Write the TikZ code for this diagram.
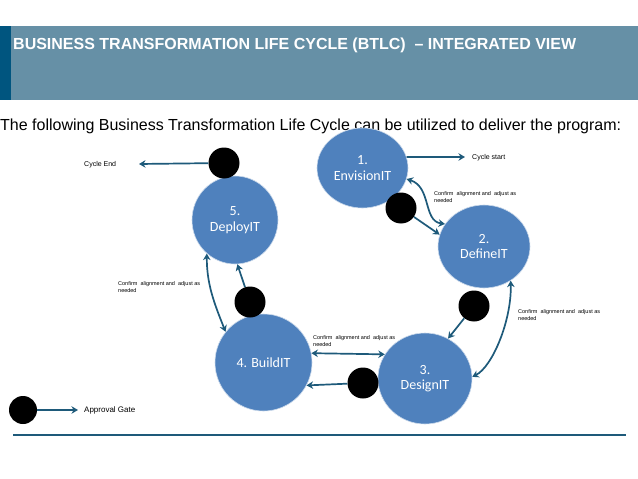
\documentclass[tikz,border=0pt]{standalone}
\usepackage{fontspec}
\setmainfont{Liberation Sans}
\newfontfamily\calibri{Carlito}
\usetikzlibrary{shapes.geometric,arrows.meta}
\definecolor{hdr}{HTML}{6690A6}
\definecolor{hdrdark}{HTML}{00557F}
\definecolor{cblue}{HTML}{4F81BD}
\definecolor{arrc}{HTML}{1E5A7A}
\begin{document}
\begin{tikzpicture}[x=1pt,y=-1pt,
 phase/.style={ellipse, fill=cblue, draw=white!70!cblue, line width=0.6pt, inner sep=0pt, text=white, font=\calibri\fontsize{14}{15.5}\selectfont, align=center},
 gate/.style={circle, fill=black, inner sep=0pt, minimum size=31pt},
 arr/.style={draw=arrc, line width=1.7pt, -{Stealth[length=6.5pt,width=7.5pt]}},
 darr/.style={draw=arrc, line width=1.7pt, {Stealth[length=6.5pt,width=7.5pt]}-{Stealth[length=6.5pt,width=7.5pt]}},
 small/.style={font=\fontsize{5.5}{7}\selectfont, align=left, inner sep=0pt, anchor=north west},
 lbl/.style={font=\fontsize{7}{8}\selectfont, inner sep=0pt, anchor=west}]
\useasboundingbox (0,0) rectangle (638,479);
\fill[white] (0,0) rectangle (638,479);
% header
\fill[hdr] (0,26) rectangle (638,100);
\fill[hdrdark] (0,26) rectangle (11,100);
\node[anchor=base west, inner sep=0pt, text=white, font=\bfseries\fontsize{16}{18}\selectfont] (title) at (13,49) {BUSINESS TRANSFORMATION LIFE CYCLE (BTLC) \ -- INTEGRATED VIEW};
\node[anchor=base west, inner sep=0pt, font=\fontsize{16}{18}\selectfont] (sub) at (0,130) {The following Business Transformation Life Cycle can be utilized to deliver the program:};
% small labels
\node[small] (l12) at (434,191) {Confirm \ alignment and \ adjust as\\needed};
\node[small] (l23) at (518,309) {Confirm \ alignment and \ adjust as\\needed};
\node[small] (l43) at (313,335) {Confirm \ alignment and \ adjust as\\needed};
\node[small] (l54) at (118,281) {Confirm \ alignment and \ adjust as\\needed};
\node[lbl] (ce) at (84,165) {Cycle End};
\node[lbl] (cs) at (472,158) {Cycle start};
\node[lbl, font=\fontsize{8}{9}\selectfont] (lg) at (84,410) {Approval Gate};
% phases
\node[phase, minimum width=91pt, minimum height=80pt] (c1) at (362.5,168) {1.\\EnvisionIT};
\node[phase, minimum width=92pt, minimum height=83pt] (c2) at (484,246.5) {2.\\DefineIT};
\node[phase, minimum width=94pt, minimum height=91pt] (c3) at (425,378.5) {3.\\DesignIT};
\node[phase, minimum width=97pt, minimum height=97pt] (c4) at (263.5,362.5) {4. BuildIT};
\node[phase, minimum width=86pt, minimum height=88pt] (c5) at (235,220) {5.\\DeployIT};
% gates
\node[gate] (g5) at (224,163) {};
\node[gate] (g12) at (401,208) {};
\node[gate] (g23) at (474,306) {};
\node[gate] (g34) at (363,383) {};
\node[gate] (g45) at (250,302) {};
\node[gate, minimum size=28pt] (gl) at (23,410) {};
% free ends
\coordinate (ceEnd) at (139,164);
\coordinate (csEnd) at (465,157);
\coordinate (lgEnd) at (78,410);
% connectors
\draw[arr] (g5) -- (ceEnd);
\draw[arr] (c1.14) -- (csEnd);
\draw[arr] (g12) -- (c2.165);
\draw[darr] (c1.-14) .. controls +(25,8) and +(-22,-3) .. (c2.150);
\draw[arr] (g23) -- (c3.60);
\draw[darr] (c2.-52) .. controls +(1,40) and +(20,-10) .. (c3.2);
\draw[darr] (c4.11) -- (c3.149);
\draw[arr] (g34) -- (c4.-28);
\draw[arr] (g45) -- (c5.-87);
\draw[darr] (c5.-130) .. controls +(0,30) and +(-12,-30) .. (c4.141);
\draw[arr] (gl) -- (lgEnd);
% bottom rule
\draw[arrc, line width=1.3pt] (13,435) -- (626,435);
\end{tikzpicture}
\end{document}
